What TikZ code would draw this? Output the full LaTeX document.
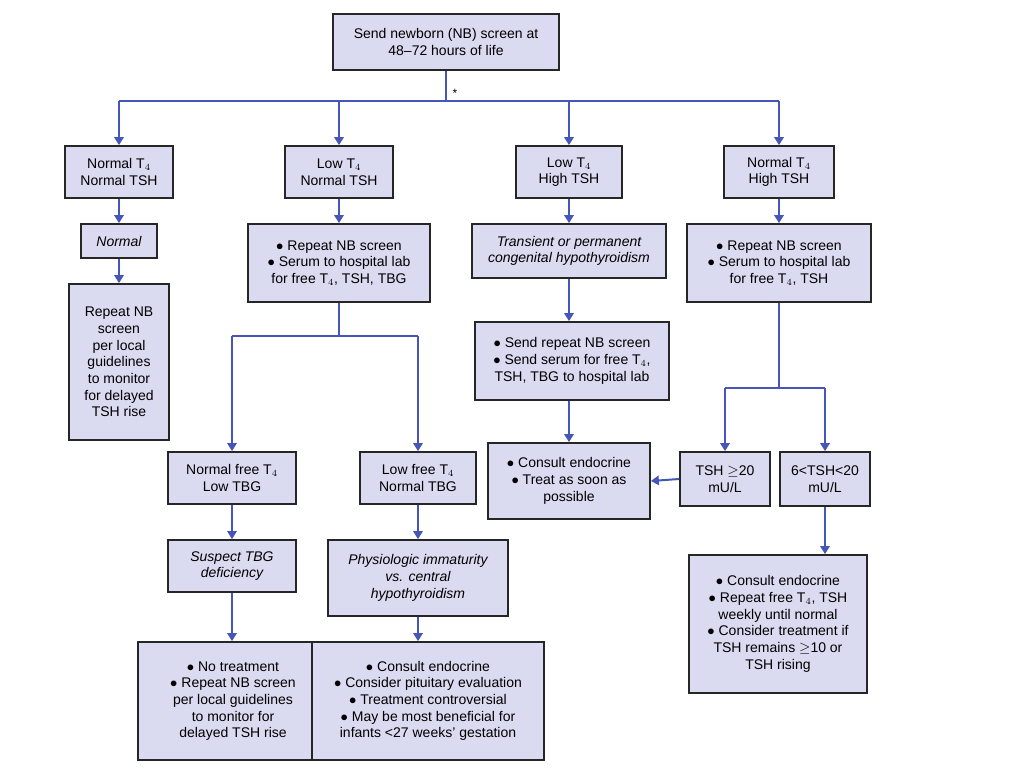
\documentclass[tikz,border=0pt]{standalone}
\usepackage{fontspec}
\setmainfont{Liberation Sans}
\usetikzlibrary{arrows.meta}
\definecolor{bfill}{RGB}{218,218,240}
\definecolor{lblue}{RGB}{70,86,184}
\begin{document}
\begin{tikzpicture}[x=0.75pt,y=-0.75pt,
 box/.style={draw=black!85,line width=1.3pt,fill=bfill,align=center,font=\fontsize{10.5}{12.5}\selectfont,inner sep=0pt},
 ln/.style={draw=lblue,line width=1.5pt},
 ar/.style={ln,-{Triangle[length=6pt,width=7pt]}}]
\useasboundingbox[fill=white] (0,0) rectangle (1024,768);
\newcommand{\bx}[6]{\node[box,minimum width=#4*0.75pt,minimum height=#5*0.75pt] (#1) at (#2,#3) {#6};}
\bx{top}{446}{42}{226}{56}{Send newborn (NB) screen at\\48--72 hours of life}
\bx{a1}{119}{172}{108}{52}{Normal T$_4$\\Normal TSH}
\bx{b1}{339}{172}{108}{52}{Low T$_4$\\Normal TSH}
\bx{c1}{569}{172}{106}{52}{Low T$_4$\\High TSH}
\bx{d1}{779}{172}{110}{52}{Normal T$_4$\\High TSH}
\bx{a2}{119}{241}{76}{34}{\itshape Normal}
\bx{a3}{119}{362}{100}{156}{Repeat NB\\screen\\per local\\guidelines\\to monitor\\for delayed\\TSH rise}
\bx{b2}{339}{263}{182}{78}{$\bullet$ Repeat NB screen\\$\bullet$ Serum to hospital lab\\for free T$_4$, TSH, TBG}
\bx{b3}{232}{478}{128}{52}{Normal free T$_4$\\Low TBG}
\bx{b4}{418}{478}{116}{52}{Low free T$_4$\\Normal TBG}
\bx{b5}{232}{566}{128}{52}{\itshape Suspect TBG\\\itshape deficiency}
\bx{b6}{418}{578}{180}{76}{\itshape Physiologic immaturity\\\itshape vs. central\\\itshape hypothyroidism}
\bx{b7}{233}{701}{190}{118}{$\bullet$ No treatment\\$\bullet$ Repeat NB screen\\per local guidelines\\to monitor for\\delayed TSH rise}
\bx{b8}{428}{701}{232}{118}{$\bullet$ Consult endocrine\\$\bullet$ Consider pituitary evaluation\\$\bullet$ Treatment controversial\\$\bullet$ May be most beneficial for\\infants <27 weeks' gestation}
\bx{c2}{569}{251}{194}{54}{\itshape Transient or permanent\\\itshape congenital hypothyroidism}
\bx{c3}{572}{361}{194}{78}{$\bullet$ Send repeat NB screen\\$\bullet$ Send serum for free T$_4$,\\TSH, TBG to hospital lab}
\bx{c4}{569}{481}{162}{76}{$\bullet$ Consult endocrine\\$\bullet$ Treat as soon as\\possible}
\bx{d2}{779}{263}{184}{78}{$\bullet$ Repeat NB screen\\$\bullet$ Serum to hospital lab\\for free T$_4$, TSH}
\bx{d3}{725}{479}{90}{54}{TSH $\geq$20\\mU/L}
\bx{d4}{825}{479}{90}{54}{6<TSH<20\\mU/L}
\bx{d5}{778}{624}{178}{138}{$\bullet$ Consult endocrine\\$\bullet$ Repeat free T$_4$, TSH\\weekly until normal\\$\bullet$ Consider treatment if\\TSH remains $\geq$10 or\\TSH rising}
\coordinate (h) at (446,101);
\coordinate (hl) at (119,101);\coordinate (hr) at (779,101);
\coordinate (hb) at (339,101);\coordinate (hc) at (569,101);
\draw[ln] (top.south) -- (h);
\draw[ln] (hl) -- (hr);
\node[font=\small] (st) at (455,93) {*};
\foreach \p/\q in {hl/a1,hb/b1,hc/c1,hr/d1} \draw[ar] (\p) -- (\q.north);
\draw[ar] (a1) -- (a2); \draw[ar] (a2) -- (a3);
\draw[ar] (b1) -- (b2);
\coordinate (bs) at (339,336); \coordinate (bl) at (232,336); \coordinate (br) at (418,336);
\draw[ln] (b2.south) -- (bs); \draw[ln] (bl) -- (br);
\draw[ar] (bl) -- (b3.north); \draw[ar] (br) -- (b4.north);
\draw[ar] (b3) -- (b5); \draw[ar] (b4) -- (b6);
\draw[ar] (b5.south) -- (b5.south|-b7.north);
\draw[ar] (b6.south) -- (b6.south|-b8.north);
\draw[ar] (c1) -- (c2); \draw[ar] (c2) -- (c3.north-|c2.south); \draw[ar] (c3.south-|c4.north) -- (c4);
\draw[ar] (d1) -- (d2);
\coordinate (ds) at (779,388); \coordinate (dl) at (725,388); \coordinate (dr) at (825,388);
\draw[ln] (d2.south) -- (ds); \draw[ln] (dl) -- (dr);
\draw[ar] (dl) -- (d3.north); \draw[ar] (dr) -- (d4.north);
\draw[ar] (d3.west) -- (c4.east);
\draw[ar] (d4.south) -- (d4.south|-d5.north);
\end{tikzpicture}
\end{document}
